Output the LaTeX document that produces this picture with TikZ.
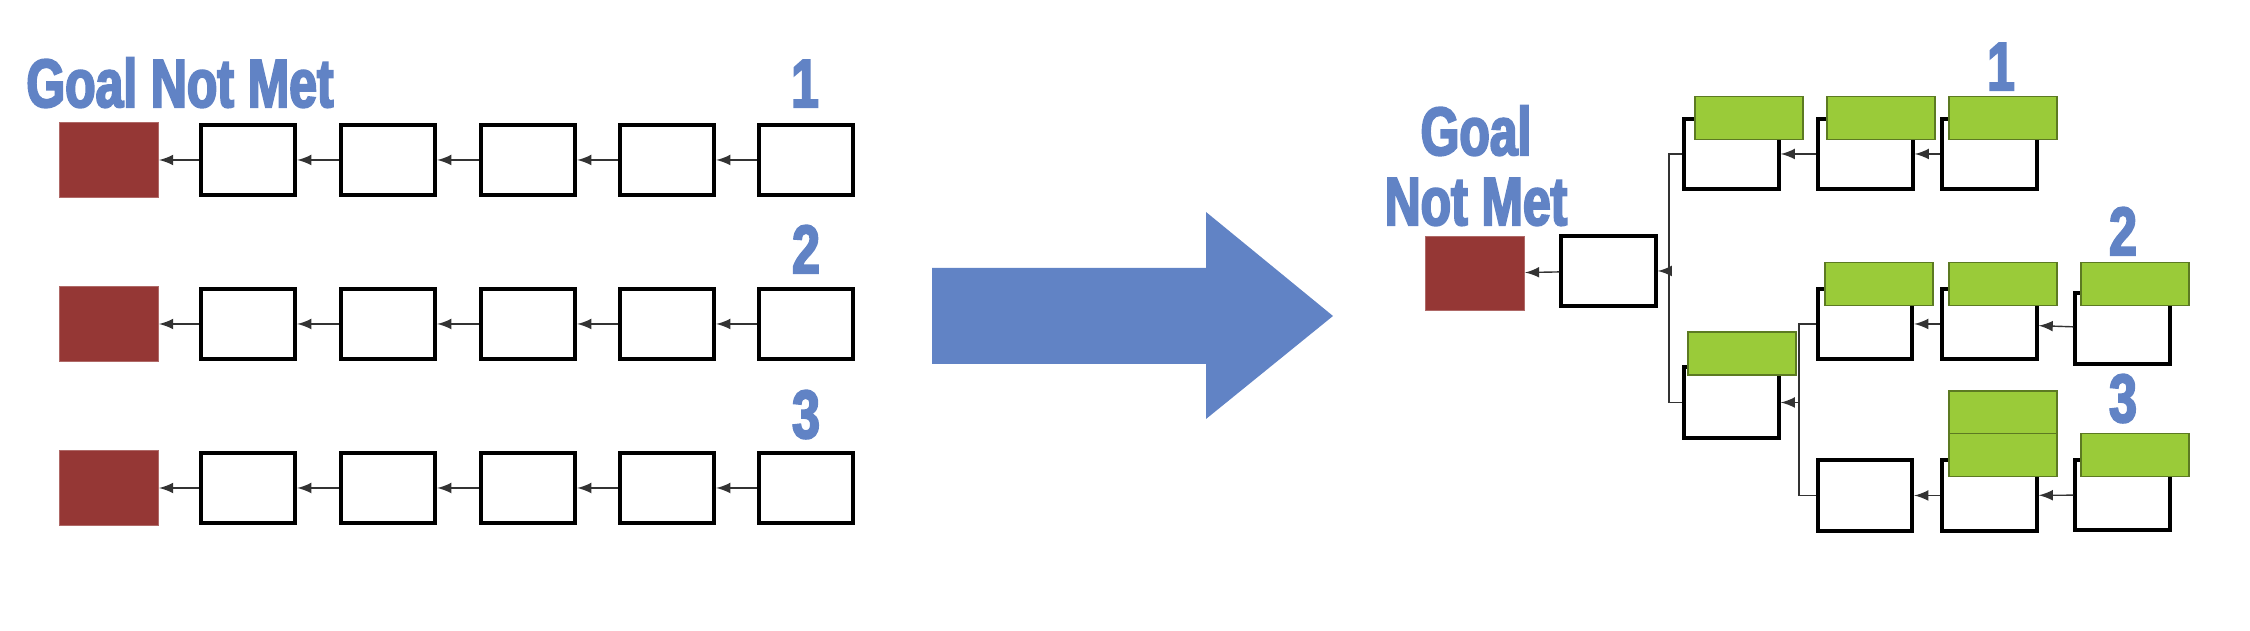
\documentclass[tikz,border=0pt]{standalone}
\usepackage{fontspec}
\usepackage{tikz}
\newfontfamily\goalfont{Liberation Sans Bold}[FakeStretch=0.73,FakeBold=3]
\definecolor{goalred}{RGB}{149,55,53}
\definecolor{titleblue}{RGB}{97,131,197}
\definecolor{leafgreen}{RGB}{154,203,57}
\tikzset{
  stage/.style={draw, line width=1.1pt, fill=white, minimum width=0.945cm, minimum height=0.705cm, inner sep=0pt},
  goal/.style={fill=goalred, draw=goalred!75!white, line width=0.3pt, minimum width=0.99cm, minimum height=0.745cm, inner sep=0pt},
  leaf/.style={fill=leafgreen, draw=leafgreen!60!black, line width=0.5pt, minimum width=1.08cm, minimum height=0.43cm, inner sep=0pt},
  heading/.style={text=titleblue, font=\goalfont\fontsize{19.4pt}{23pt}\selectfont, anchor=base, inner sep=0pt},
  link/.style={->, >=latex, black!80}
}

\begin{document}
\begin{tikzpicture}[x=0.01cm, y=-0.01cm]
    \useasboundingbox (0,0) rectangle (2250,631);

    % Left: three separate chains
    \node[heading] (T0) at (180,107) {Goal Not Met};
    \node[heading] (T1) at (805,107) {1};
    \node[heading] (T2) at (806,273) {2};
    \node[heading] (T3) at (806,438) {3};

    \node[goal] (G1) at (109,160) {};
    \node[stage] (P1) at (248,160) {};
    \node[stage] (P2) at (388,160) {};
    \node[stage] (P3) at (528,160) {};
    \node[stage] (P4) at (667,160) {};
    \node[stage] (P5) at (806,160) {};

    \node[goal] (G2) at (109,324) {};
    \node[stage] (Q1) at (248,324) {};
    \node[stage] (Q2) at (388,324) {};
    \node[stage] (Q3) at (528,324) {};
    \node[stage] (Q4) at (667,324) {};
    \node[stage] (Q5) at (806,324) {};

    \node[goal] (G3) at (109,488) {};
    \node[stage] (S1) at (248,488) {};
    \node[stage] (S2) at (388,488) {};
    \node[stage] (S3) at (528,488) {};
    \node[stage] (S4) at (667,488) {};
    \node[stage] (S5) at (806,488) {};

    % Draw arrows
    \draw[link] (P1) -- (G1);
    \draw[link] (P2) -- (P1);
    \draw[link] (P3) -- (P2);
    \draw[link] (P4) -- (P3);
    \draw[link] (P5) -- (P4);
    \draw[link] (Q1) -- (G2);
    \draw[link] (Q2) -- (Q1);
    \draw[link] (Q3) -- (Q2);
    \draw[link] (Q4) -- (Q3);
    \draw[link] (Q5) -- (Q4);
    \draw[link] (S1) -- (G3);
    \draw[link] (S2) -- (S1);
    \draw[link] (S3) -- (S2);
    \draw[link] (S4) -- (S3);
    \draw[link] (S5) -- (S4);

    % Big arrow
    \fill[titleblue] (932,268) -- (1206,268) -- (1206,212) -- (1333,316)
        -- (1206,419) -- (1206,364) -- (932,364) -- cycle;

    % Right: merged tree
    \node[heading] (U0) at (1476,155) {Goal};
    \node[heading] (U1) at (1476,225) {Not Met};
    \node[heading] (U2) at (2001,90) {1};
    \node[heading] (U3) at (2123,255) {2};
    \node[heading] (U4) at (2123,422) {3};

    \node[goal] (G0) at (1475,273.5) {};
    \node[stage] (W0) at (1608.5,271) {};
    \node[stage] (A1) at (1731.5,154) {};
    \node[stage] (A2) at (1865.5,154) {};
    \node[stage] (A3) at (1989.5,154) {};
    \node[stage] (B1) at (1731.5,402.5) {};
    \node[stage] (C1) at (1865,324) {};
    \node[stage] (C2) at (1989.5,324) {};
    \node[stage] (C3) at (2122.5,328.5) {};
    \node[stage] (D1) at (1865,495.5) {};
    \node[stage] (D2) at (1989.5,495.5) {};
    \node[stage] (D3) at (2122.5,495) {};

    \node[leaf] (A1g) at (1749,118) {};
    \node[leaf] (A2g) at (1881,118) {};
    \node[leaf] (A3g) at (2003,118) {};
    \node[leaf] (B1g) at (1742,353.5) {};
    \node[leaf] (C1g) at (1879,284) {};
    \node[leaf] (C2g) at (2003,284) {};
    \node[leaf] (C3g) at (2135,284) {};
    \node[leaf] (D2g) at (2003,412.5) {};
    \node[leaf] (D2h) at (2003,455) {};
    \node[leaf] (D3g) at (2135,455) {};

    \coordinate (J1) at (1669,271);
    \coordinate (J2) at (1799,402.5);

    % Draw arrows
    \draw[link] (W0) -- (G0);
    \draw[black!80] (A1.west) -| (J1) |- (B1.west);
    \draw[link] (J1) -- (W0);
    \draw[link] (A2) -- (A1);
    \draw[link] (A3) -- (A2);
    \draw[black!80] (C1.west) -| (J2) |- (D1.west);
    \draw[link] (J2) -- (B1);
    \draw[link] (C2) -- (C1);
    \draw[link] (C3) -- (C2);
    \draw[link] (D2) -- (D1);
    \draw[link] (D3) -- (D2);
\end{tikzpicture}
\end{document}
